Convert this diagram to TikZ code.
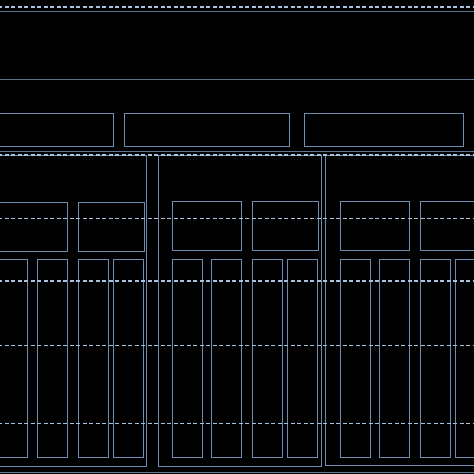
\documentclass[tikz,border=0pt]{standalone}
\definecolor{boxblue}{HTML}{6D8CB0}
\definecolor{guideblue}{HTML}{A8C2DE}
\definecolor{rulegray}{HTML}{5E7690}
\begin{document}
\begin{tikzpicture}[x=1pt,y=-1pt,
  box/.style={draw=boxblue,line width=1.1pt,inner sep=0pt,anchor=north west},
  slot/.style={box,minimum width=30pt,minimum height=198pt},
  panel/.style={box,minimum height=49pt},
  guide/.style={draw=guideblue,line width=1.1pt,dash pattern=on 4pt off 2.5pt},
  rule/.style={draw=rulegray,line width=1.1pt}]
\fill[black] (0,0) rectangle (474,474);
\useasboundingbox (0,0) rectangle (474,474);
\clip (0,0) rectangle (474,474);

% outer bands
\node[box,draw=rulegray,minimum width=490pt,minimum height=68pt] (header) at (-8,11) {};
\node[box,draw=rulegray,minimum width=490pt,minimum height=72pt] (band) at (-8,79) {};
\draw[rule] (-8,472.5) -- (482,472.5);

% top row
\node[box,minimum width=116pt,minimum height=33pt] (topA) at (-3,112.5) {};
\node[box,minimum width=164.5pt,minimum height=33pt] (topB) at (124,113) {};
\node[box,minimum width=158.5pt,minimum height=33pt] (topC) at (304,113) {};

% columns
\node[box,minimum width=149pt,minimum height=311pt] (colA) at (-3,155) {};
\node[box,minimum width=163pt,minimum height=310.5pt] (colB) at (157.5,155) {};
\node[box,minimum width=160pt,minimum height=310pt] (colC) at (325,155) {};

% panels
\node[panel,minimum width=69.5pt] (panelA1) at (-3,201.5) {};
\node[panel,minimum width=66.5pt] (panelA2) at (77.5,202) {};
\node[panel,minimum width=69pt] (panelB1) at (172,201) {};
\node[panel,minimum width=66pt] (panelB2) at (252,201) {};
\node[panel,minimum width=69.5pt] (panelC1) at (339.5,200.5) {};
\node[panel,minimum width=69pt] (panelC2) at (420,200.5) {};

% slots
\foreach \x [count=\i] in {-3,36.5,77.5,112.5,172,211,252,287,339.5,379,420,455}
  \node[slot] (slot\i) at (\x,258.5) {};

% guides
\foreach \y in {7,155,218.5,281,345.5,423.5}
  \draw[guide] (-2,\y) -- (476,\y);
\end{tikzpicture}
\end{document}
